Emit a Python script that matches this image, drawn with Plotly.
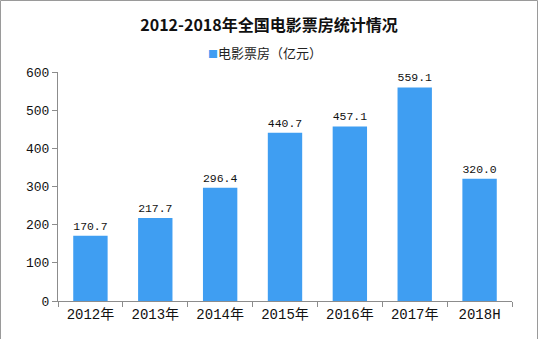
import plotly.graph_objects as go

years = ["2012年", "2013年", "2014年", "2015年", "2016年", "2017年", "2018H"]
box_office = [170.7, 217.7, 296.4, 440.7, 457.1, 559.1, 320.0]
y_ticks = [0, 100, 200, 300, 400, 500, 600]
series_name = "电影票房（亿元）"

W, H = 538, 339
ML, MR, MT, MB = 58, 26, 72, 38
axis_grey = "#8c8c8c"
bar_blue = "#3f9ef2"
mono = "Liberation Mono, Noto Sans CJK SC, sans-serif"
cjk = "Noto Sans CJK SC, sans-serif"

fig = go.Figure()
fig.add_trace(go.Bar(
    x=years,
    y=box_office,
    name=series_name,
    showlegend=False,
    marker=dict(color=bar_blue, line=dict(width=0)),
    width=0.53,
    text=[f"{v:.1f}" for v in box_office],
    textposition="outside",
    textfont=dict(family=mono, size=14, color="#111111"),
    cliponaxis=False,
))

pw, ph = W - ML - MR, H - MT - MB

# compact legend: small colour square followed by the series name
fig.add_annotation(
    xref="paper", yref="paper",
    x=(265 - ML) / pw, y=1 + (MT - 53) / ph,
    xanchor="center", yanchor="middle", showarrow=False,
    text=f"<span style='color:{bar_blue};font-size:10px'>■</span>{series_name}",
    font=dict(family=cjk, size=13, color="#222222"),
)

# outer frame around the whole canvas
fig.add_shape(
    type="rect", xref="paper", yref="paper", layer="above",
    x0=(0.5 - ML) / pw, x1=(W - 0.5 - ML) / pw,
    y0=(MB - (H - 0.5)) / ph, y1=(H - MB - 0.5) / ph,
    line=dict(color="#9a9a9a", width=1),
)

fig.update_layout(
    width=W, height=H,
    margin=dict(l=ML, r=MR, t=MT, b=MB),
    paper_bgcolor="white", plot_bgcolor="white",
    title=dict(
        text="<b>2012-2018年全国电影票房统计情况</b>",
        x=0.5, xanchor="center", y=1 - 25 / H, yanchor="middle",
        font=dict(family=cjk, size=16, color="#111111"),
    ),
    bargap=0.47,
    xaxis=dict(
        type="category",
        showline=True, linecolor=axis_grey, linewidth=1,
        ticks="outside", tickson="boundaries", ticklen=5, tickcolor=axis_grey,
        tickfont=dict(family=mono, size=14, color="#111111"),
        showgrid=False, zeroline=False,
    ),
    yaxis=dict(
        range=[0, 600], tickvals=y_ticks,
        showline=True, linecolor=axis_grey, linewidth=1,
        ticks="outside", ticklen=5, tickcolor=axis_grey,
        tickfont=dict(family=mono, size=13, color="#111111"),
        showgrid=False, zeroline=False,
    ),
)

fig.write_html("out.html")
